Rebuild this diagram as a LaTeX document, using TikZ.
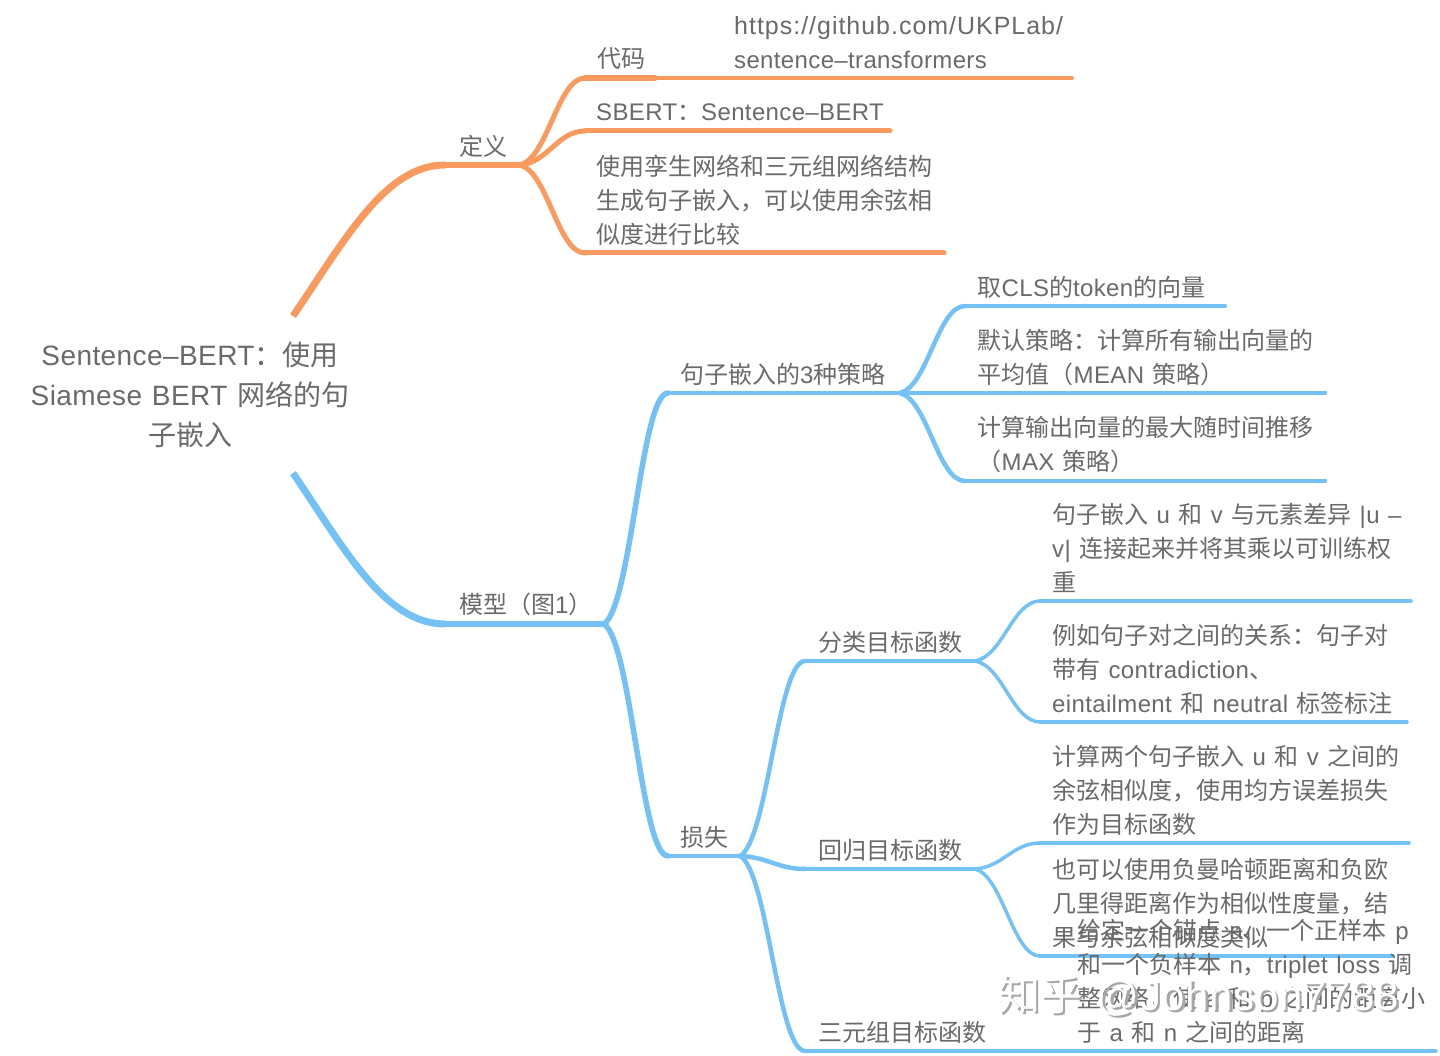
\documentclass[tikz,border=0pt]{standalone}
\usepackage{fontspec}
\setmainfont[LetterSpace=1.5,WordSpace=1.2]{Liberation Sans}
\newfontfamily\urlfont[Scale=1.04,LetterSpace=4]{Liberation Sans}
\newfontfamily\cjk{Noto Sans CJK SC}
\newcommand\zh[1]{{\cjk #1}}
\usetikzlibrary{calc}
\definecolor{orangeline}{HTML}{FB9A5E}
\definecolor{blueline}{HTML}{74C2F5}
\definecolor{inkgray}{HTML}{6A6A6A}
\tikzset{
  label/.style={anchor=west,inner sep=0pt,align=left,text=inkgray,font=\fontsize{24}{34}\selectfont},
  rootlabel/.style={anchor=center,inner sep=0pt,align=center,text=inkgray,font=\fontsize{28}{40}\selectfont},
  orangeb/.style={draw=orangeline,line width=5pt,line cap=round,line join=round},
  blueb/.style={draw=blueline,line width=4.5pt,line cap=round,line join=round},
  thinb/.style={draw=blueline,line width=3.5pt,line cap=round,line join=round},
  mainb/.style={line width=7pt,line cap=butt,line join=round},
}
\newcommand\branch[3]{%
  \draw[#1] let \p1=(#2),\p2=(#3),\n1={\x2-\x1},\n2={\y2-\y1} in
    (\p1) .. controls ({\x1+0.43*\n1},{\y1+0.08*\n2}) and ({\x1+0.58*\n1},{\y2}) .. (\p2);}
\begin{document}
\begin{tikzpicture}[x=1pt,y=-1pt]
\useasboundingbox (0,0) rectangle (1440,1056);
\fill[white] (0,0) rectangle (1440,1056);

% coordinates
\coordinate (rootO) at (293,316);
\coordinate (rootB) at (293,473);
\coordinate (defS) at (445,165);
\coordinate (defH) at (520,165);
\coordinate (codeS) at (585,78);
\coordinate (codeE) at (655,78);
\coordinate (urlE) at (1072,78);
\coordinate (sbS) at (585,131);
\coordinate (sbE) at (890,131);
\coordinate (useS) at (585,253);
\coordinate (useE) at (944,253);
\coordinate (modS) at (445,624);
\coordinate (modH) at (604,624);
\coordinate (stS) at (668,393);
\coordinate (stH) at (900,393);
\coordinate (clsS) at (965,306);
\coordinate (clsE) at (1225,306);
\coordinate (meanS) at (965,393);
\coordinate (meanE) at (1325,393);
\coordinate (maxS) at (965,481);
\coordinate (maxE) at (1325,481);
\coordinate (lossS) at (668,856);
\coordinate (lossH) at (740,856);
\coordinate (clfS) at (805,661);
\coordinate (clfH) at (975,661);
\coordinate (regS) at (805,869);
\coordinate (regH) at (975,869);
\coordinate (triS) at (805,1051);
\coordinate (triH) at (997,1051);
\coordinate (triE) at (1436,1051);
\coordinate (c1S) at (1040,601);
\coordinate (c1E) at (1411,601);
\coordinate (c2S) at (1040,722);
\coordinate (c2E) at (1407,722);
\coordinate (r1S) at (1040,843);
\coordinate (r1E) at (1409,843);
\coordinate (r2S) at (1040,956);
\coordinate (r2E) at (1393,956);

% orange
\draw[draw=orangeline,mainb] (rootO) .. controls (345,240) and (385,165) .. (defS);
\draw[orangeb,line width=6.5pt] (defS) -- (defH);
\branch{orangeb}{defH}{codeS}
\draw[orangeb,line width=5.5pt] (codeS) -- (codeE);
\draw[orangeb,line width=4pt] (codeE) -- (urlE);
\branch{orangeb}{defH}{sbS}
\draw[orangeb] (sbS) -- (sbE);
\branch{orangeb}{defH}{useS}
\draw[orangeb] (useS) -- (useE);

% blue
\draw[draw=blueline,mainb] (rootB) .. controls (345,550) and (385,624) .. (modS);
\draw[blueb,line width=6.5pt] (modS) -- (modH);
\branch{blueb,line width=5.5pt}{modH}{stS}
\draw[blueb] (stS) -- (stH);
\branch{blueb}{stH}{clsS}
\draw[blueb] (clsS) -- (clsE);
\branch{blueb}{stH}{meanS}
\draw[blueb] (meanS) -- (meanE);
\branch{blueb}{stH}{maxS}
\draw[blueb] (maxS) -- (maxE);
\branch{blueb,line width=5.5pt}{modH}{lossS}
\draw[blueb] (lossS) -- (lossH);
\branch{blueb}{lossH}{clfS}
\draw[blueb] (clfS) -- (clfH);
\branch{blueb}{lossH}{regS}
\draw[blueb] (regS) -- (regH);
\branch{blueb}{lossH}{triS}
\draw[blueb] (triS) -- (triH);
\draw[thinb] (triH) -- (triE);
\branch{thinb}{clfH}{c1S}
\draw[thinb] (c1S) -- (c1E);
\branch{thinb}{clfH}{c2S}
\draw[thinb] (c2S) -- (c2E);
\branch{thinb}{regH}{r1S}
\draw[thinb] (r1S) -- (r1E);
\branch{thinb}{regH}{r2S}
\draw[thinb] (r2S) -- (r2E);

% texts
\node[rootlabel] (root) at (190,397) {\strut Sentence–BERT\zh{：使用}\\\strut Siamese BERT \zh{网络的句}\\\strut\zh{子嵌入}};
\node[label] (def) at (459,146) {\zh{定义}};
\node[label] (code) at (597,59) {\zh{代码}};
\node[label] (url) at (734,44.5) {\strut{\urlfont https://github.com/UKPLab/}\\\strut sentence–transformers};
\node[label] (sbert) at (596,112) {SBERT\zh{：}Sentence–BERT};
\node[label] (use) at (596.5,202.5) {\strut\zh{使用孪生网络和三元组网络结构}\\\strut\zh{生成句子嵌入，可以使用余弦相}\\\strut\zh{似度进行比较}};
\node[label] (model) at (459,604) {\zh{模型（图}1\zh{）}};
\node[label] (strat) at (680,374) {\zh{句子嵌入的}3\zh{种策略}};
\node[label] (cls) at (977.5,287) {\zh{取}CLS\zh{的}token\zh{的向量}};
\node[label] (mean) at (977.5,359.5) {\strut\zh{默认策略：计算所有输出向量的}\\\strut\zh{平均值（}MEAN \zh{策略）}};
\node[label] (max) at (977.5,446.5) {\strut\zh{计算输出向量的最大随时间推移}\\\strut\zh{（}MAX \zh{策略）}};
\node[label] (loss) at (680,837) {\zh{损失}};
\node[label] (clf) at (818,642) {\zh{分类目标函数}};
\node[label] (reg) at (818,850) {\zh{回归目标函数}};
\node[label] (tri) at (818,1032) {\zh{三元组目标函数}};
\node[label] (c1) at (1052,550.5) {\strut\zh{句子嵌入} u \zh{和} v \zh{与元素差异} |u –\\\strut v| \zh{连接起来并将其乘以可训练权}\\\strut\zh{重}};
\node[label] (c2) at (1052,671.5) {\strut\zh{例如句子对之间的关系：句子对}\\\strut\zh{带有} contradiction\zh{、}\\\strut eintailment \zh{和} neutral \zh{标签标注}};
\node[label] (r1) at (1052,792.5) {\strut\zh{计算两个句子嵌入} u \zh{和} v \zh{之间的}\\\strut\zh{余弦相似度，使用均方误差损失}\\\strut\zh{作为目标函数}};
\node[label] (r2) at (1052,905.5) {\strut\zh{也可以使用负曼哈顿距离和负欧}\\\strut\zh{几里得距离作为相似性度量，结}\\\strut\zh{果与余弦相似度类似}};
\node[label] (t1) at (1077,983.5) {\strut\zh{给定一个锚点} a\zh{、一个正样本} p\\\strut\zh{和一个负样本} n\zh{，}triplet loss \zh{调}\\\strut\zh{整网络，使} a \zh{和} p \zh{之间的距离小}\\\strut\zh{于} a \zh{和} n \zh{之间的距离}};

% watermark
\node[anchor=west,inner sep=0pt,text=black!35,font=\fontsize{42}{46}\selectfont] (wmshadow) at (1000.5,998) {\zh{知乎} @Johnson7788};
\node[anchor=west,inner sep=0pt,text=white,font=\fontsize{42}{46}\selectfont] (wm) at (998,996) {\zh{知乎} @Johnson7788};
\end{tikzpicture}
\end{document}
